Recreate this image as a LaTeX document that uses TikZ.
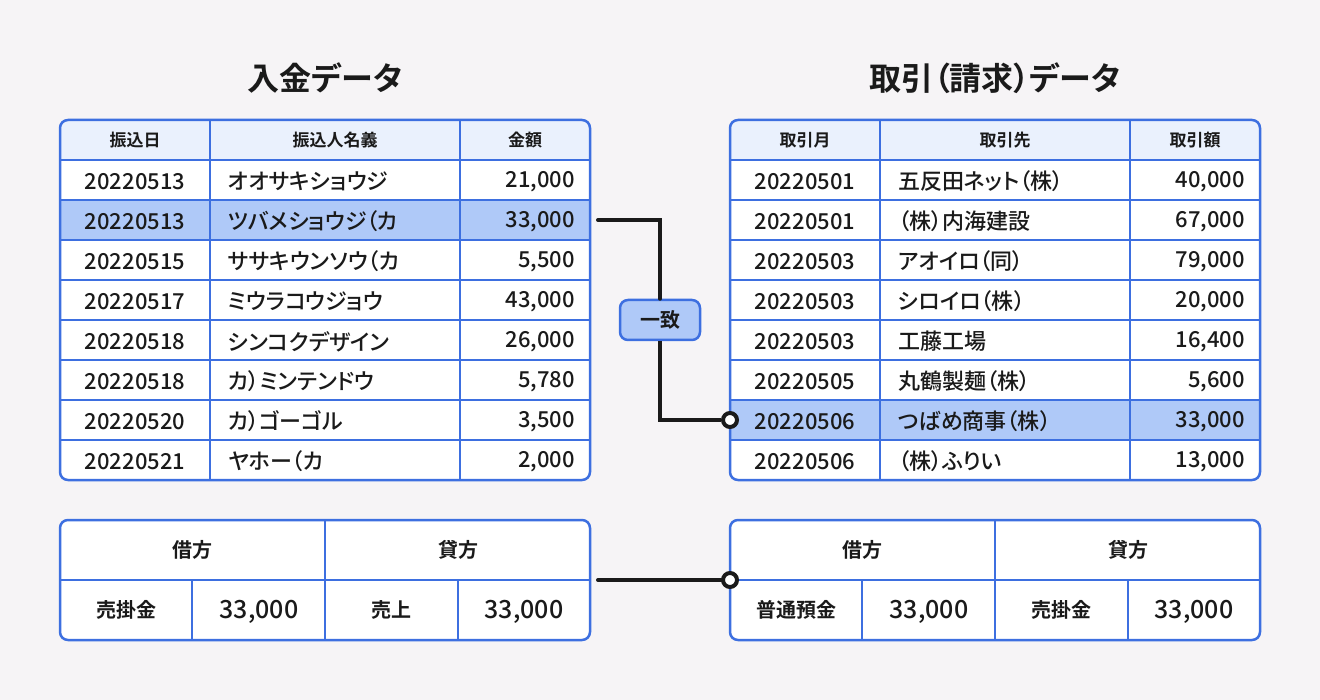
\documentclass[tikz,border=0pt]{standalone}
\usepackage{fontspec}
\setmainfont{Noto Sans CJK JP Medium}[BoldFont={Noto Sans CJK JP Bold}, RawFeature=+palt]
\usepackage{tikz}
\definecolor{bg}{HTML}{F6F4F6}
\definecolor{edge}{HTML}{3D6FE0}
\definecolor{headfill}{HTML}{EAF1FD}
\definecolor{hl}{HTML}{AFC9F8}
\definecolor{ink}{HTML}{1A1A1A}
\tikzset{
  cell/.style={font=\fontsize{22}{22}\selectfont, text=ink, inner sep=0pt, yshift=-1.5pt},
  headcell/.style={font=\fontsize{17}{17}\selectfont\bfseries, text=ink, inner sep=0pt},
  bighead/.style={font=\fontsize{20}{20}\selectfont\bfseries, text=ink, inner sep=0pt},
  bigcell/.style={font=\fontsize{25}{25}\selectfont, text=ink, inner sep=0pt, yshift=-1.5pt},
  title/.style={font=\fontsize{32}{32}\selectfont\bfseries, text=ink},
  gridline/.style={edge, line width=1.5pt},
  frame/.style={edge, line width=2.5pt, rounded corners=8pt},
  link/.style={ink, line width=4pt},
  dot/.style={circle, draw=ink, line width=4pt, fill=white, minimum size=14pt, inner sep=0pt}
}
\begin{document}
\begin{tikzpicture}[x=1pt, y=-1pt]
  \fill[bg] (0,0) rectangle (1320,700);

  % titles
  \node (tleft) [title] at (325,78) {入金データ};
  \node (tright) [title] at (995,78) {取引（請求）データ};

  % left table
  \begin{scope}
    \clip[rounded corners=8pt] (60,120) rectangle (590,480);
    \fill[white] (60,120) rectangle (590,480);
    \fill[headfill] (60,120) rectangle (590,160);
    \fill[hl] (60,200) rectangle (590,240);
  \end{scope}
  \foreach \y in {160,200,...,440} \draw[gridline] (60,\y) -- (590,\y);
  \foreach \x in {210,460} \draw[gridline] (\x,120) -- (\x,480);
  \draw[frame] (60,120) rectangle (590,480);
  \node (lh1) [headcell] at (135,140) {振込日};
  \node (lh2) [headcell] at (335,140) {振込人名義};
  \node (lh3) [headcell] at (525,140) {金額};
  \foreach \d/\n/\a [count=\i] in {
    20220513/オオサキショウジ/{21,000},
    20220513/ツバメショウジ（カ/{33,000},
    20220515/ササキウンソウ（カ/{5,500},
    20220517/ミウラコウジョウ/{43,000},
    20220518/シンコクデザイン/{26,000},
    20220518/カ）ミンテンドウ/{5,780},
    20220520/カ）ゴーゴル/{3,500},
    20220521/ヤホー（カ/{2,000}} {
    \node (ld\i) [cell] at (135,140+40*\i) {\d};
    \node (ln\i) [cell, anchor=west] at (228,140+40*\i) {\n};
    \node (la\i) [cell, anchor=east] at (575,140+40*\i) {\a};
  }

  % right table
  \begin{scope}
    \clip[rounded corners=8pt] (730,120) rectangle (1260,480);
    \fill[white] (730,120) rectangle (1260,480);
    \fill[headfill] (730,120) rectangle (1260,160);
    \fill[hl] (730,400) rectangle (1260,440);
  \end{scope}
  \foreach \y in {160,200,...,440} \draw[gridline] (730,\y) -- (1260,\y);
  \foreach \x in {880,1130} \draw[gridline] (\x,120) -- (\x,480);
  \draw[frame] (730,120) rectangle (1260,480);
  \node (rh1) [headcell] at (805,140) {取引月};
  \node (rh2) [headcell] at (1005,140) {取引先};
  \node (rh3) [headcell] at (1195,140) {取引額};
  \foreach \d/\n/\a [count=\i] in {
    20220501/五反田ネット（株）/{40,000},
    20220501/（株）内海建設/{67,000},
    20220503/アオイロ（同）/{79,000},
    20220503/シロイロ（株）/{20,000},
    20220503/工藤工場/{16,400},
    20220505/丸鶴製麺（株）/{5,600},
    20220506/つばめ商事（株）/{33,000},
    20220506/（株）ふりい/{13,000}} {
    \node (rd\i) [cell] at (805,140+40*\i) {\d};
    \node (rn\i) [cell, anchor=west] at (898,140+40*\i) {\n};
    \node (ra\i) [cell, anchor=east] at (1245,140+40*\i) {\a};
  }

  % journal entries
  \foreach \s/\x/\da/\ca/\dv/\cv in {l/60/売掛金/売上/{33,000}/{33,000}, r/730/普通預金/売掛金/{33,000}/{33,000}} {
    \fill[white, rounded corners=8pt] (\x,520) rectangle ++(530,120);
    \draw[gridline] (\x,580) -- ++(530,0);
    \draw[gridline] (\x+265,520) -- ++(0,120);
    \draw[gridline] (\x+132,580) -- ++(0,60);
    \draw[gridline] (\x+398,580) -- ++(0,60);
    \draw[frame] (\x,520) rectangle ++(530,120);
    \node (\s jh1) [bighead] at (\x+132,550) {借方};
    \node (\s jh2) [bighead] at (\x+398,550) {貸方};
    \node (\s jd1) [bighead] at (\x+66,610) {\da};
    \node (\s jv1) [bigcell] at (\x+199,610) {\dv};
    \node (\s jd2) [bighead] at (\x+331,610) {\ca};
    \node (\s jv2) [bigcell] at (\x+464,610) {\cv};
  }

  % connectors
  \coordinate (mfrom) at (598,220);
  \node (mto) [dot] at (730,420) {};
  \node (match) [rectangle, rounded corners=8pt, draw=edge, line width=2.5pt, fill=hl,
    minimum width=80pt, minimum height=40pt, font=\fontsize{20}{20}\selectfont\bfseries, text=ink]
    at (660,320) {一致};
  \draw[link, line cap=round] (mfrom) -| (match.north);
  \draw[link] (match.south) |- (mto.west);
  \coordinate (jfrom) at (598,580);
  \node (jto) [dot] at (730,580) {};
  \draw[link, line cap=round] (jfrom) -- (jto.west);
\end{tikzpicture}
\end{document}
